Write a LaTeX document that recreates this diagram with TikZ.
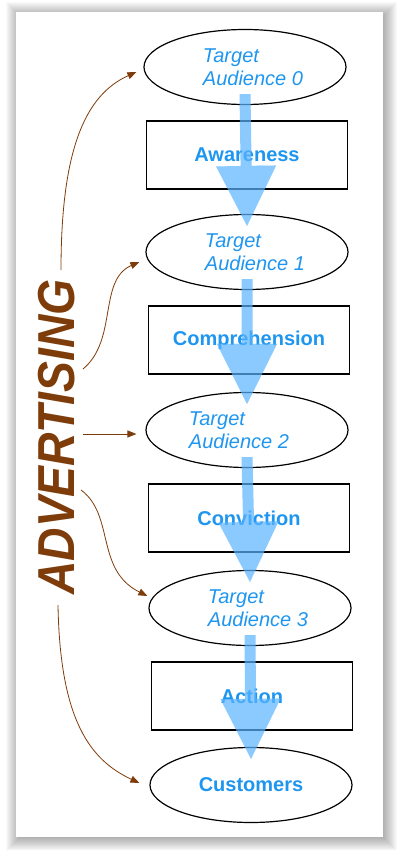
\documentclass[tikz,border=0pt]{standalone}
\usepackage{fontspec}
\setmainfont{Liberation Sans}
\usetikzlibrary{shapes.geometric,arrows.meta}
\definecolor{txtblue}{RGB}{30,150,240}
\definecolor{flowblue}{RGB}{90,180,255}
\definecolor{advbrown}{RGB}{125,60,10}
\newcommand{\padtxt}{\hspace*{16pt}}
\tikzset{
  aud/.style={ellipse, draw, line width=1.2pt, minimum width=202pt, minimum height=75pt, inner sep=0pt, align=left, text=txtblue, font=\fontsize{20}{23}\selectfont\itshape},
  stage/.style={rectangle, draw, line width=1.2pt, minimum width=201pt, minimum height=68pt, inner sep=0pt, text=txtblue, font=\fontsize{20}{23}\selectfont\bfseries},
  flow/.style={draw=flowblue, line width=11pt, -{Triangle[length=60pt,width=60pt,line width=0.1pt,fill=flowblue]}},
  adv/.style={draw=advbrown, line width=0.8pt, -{Triangle[length=9pt,width=7pt]}}
}
\begin{document}
\begin{tikzpicture}[x=1pt,y=-1pt]
\useasboundingbox (0,0) rectangle (400,850);
\fill[white] (0,0) rectangle (400,850);
\foreach \i in {1,...,14}
  \fill[black, opacity=0.022] (20-\i,16-\i) rectangle (383+\i,837+\i);
\fill[white] (16,12) rectangle (383,837);
\node[aud] (e0) at (245,67) {\padtxt Target\\\padtxt Audience 0};
\node[stage] (s0) at (247,155) {Awareness};
\node[aud] (e1) at (247,252) {\padtxt Target\\\padtxt Audience 1};
\node[stage] (s1) at (249,340) {Comprehension};
\node[aud] (e2) at (247,430) {Target\\Audience 2\padtxt};
\node[stage] (s2) at (249,518) {Conviction};
\node[aud] (e3) at (250,608) {\padtxt Target\\\padtxt Audience 3};
\node[stage] (s3) at (252,696) {Action};
\node[aud, font=\fontsize{20}{23}\selectfont\bfseries] (e4) at (251,785) {Customers};
\begin{scope}[transparency group, opacity=0.7]
\draw[flow] ([yshift=11pt]e0.south) -- ([yshift=-12pt]e1.north);
\draw[flow] ([yshift=11pt]e1.south) -- ([yshift=-12pt]e2.north);
\draw[flow] ([yshift=11pt]e2.south) -- ([yshift=-12pt]e3.north);
\draw[flow] ([yshift=11pt]e3.south) -- ([yshift=-12pt]e4.north);
\end{scope}
\node[rotate=90, inner sep=0pt, text=advbrown] (advert) at (57,437)
  {\scalebox{0.89}[1]{\fontsize{52}{52}\selectfont\bfseries\itshape ADVERTISING}};
\coordinate (a0) at (61,270);
\coordinate (a1) at (83,369);
\coordinate (a2) at (83,434);
\coordinate (a3) at (81,490);
\coordinate (a4) at (58,605);
\draw[adv] (a0) .. controls (61,150) and (85,95) .. ([xshift=-7pt,yshift=-5pt]e0.west);
\draw[adv] (a1) .. controls (118,340) and (98,280) .. ([xshift=-6pt,yshift=-10pt]e1.west);
\draw[adv] (a2) -- ([xshift=-9pt,yshift=-4pt]e2.west);
\draw[adv] (a3) .. controls (115,515) and (95,570) .. ([xshift=-1pt,yshift=12pt]e3.west);
\draw[adv] (a4) .. controls (60,720) and (90,760) .. ([xshift=-10pt,yshift=2pt]e4.west);
\end{tikzpicture}
\end{document}
